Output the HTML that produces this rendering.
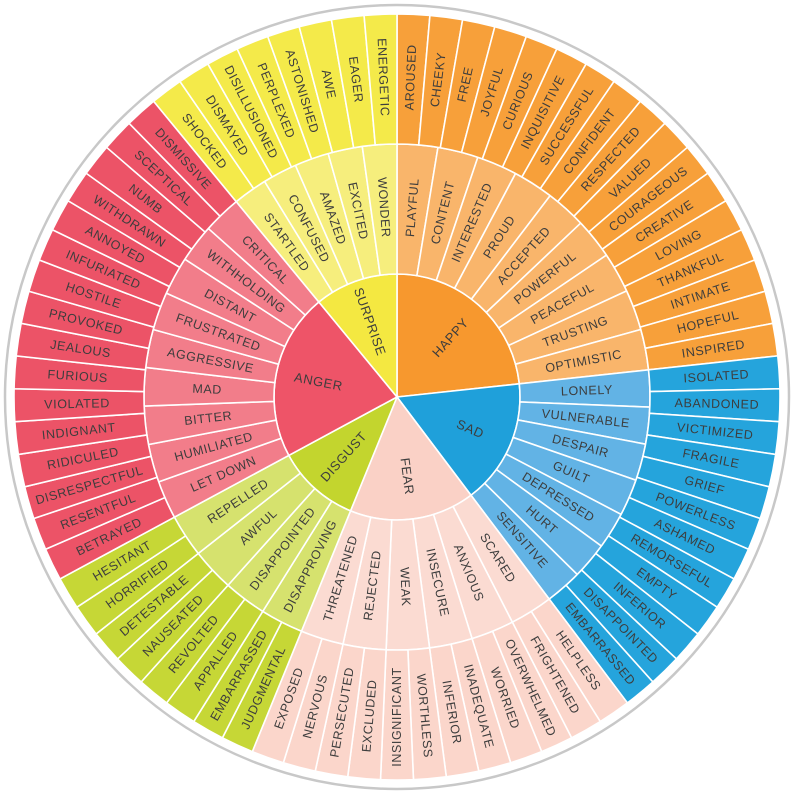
<!DOCTYPE html>
<html><head><meta charset="utf-8"><style>
html,body{margin:0;padding:0;background:#fff}
svg{display:block}
text{font-family:"Liberation Sans","DejaVu Sans",sans-serif;fill:#3d3d3d;letter-spacing:0.6px}
</style></head><body>
<svg id="wheel" width="794" height="794" viewBox="0 0 794 794" xmlns="http://www.w3.org/2000/svg">
<circle cx="397" cy="397" r="392" fill="#fff" stroke="#c8c8c8" stroke-width="2.5"/>
</svg>
<script>
const coreNames=["HAPPY","SAD","FEAR","DISGUST","ANGER","SURPRISE"];
const coreColors=["#F7982E","#1FA0DA","#FAD1C6","#C3D52E","#EE5468","#F4E841"];
const midColors=["#F9B56B","#62B3E5","#FBDBD2","#D6E26E","#F27D8A","#F6EE7D"];
const outColors=["#F7A03A","#25A4DC","#FBD6CB","#C6D736","#EC5367","#F4EA4A"];
const middle=[
["PLAYFUL","CONTENT","INTERESTED","PROUD","ACCEPTED","POWERFUL","PEACEFUL","TRUSTING","OPTIMISTIC"],
["LONELY","VULNERABLE","DESPAIR","GUILT","DEPRESSED","HURT","SENSITIVE"],
["SCARED","ANXIOUS","INSECURE","WEAK","REJECTED","THREATENED"],
["DISAPPROVING","DISAPPOINTED","AWFUL","REPELLED"],
["LET DOWN","HUMILIATED","BITTER","MAD","AGGRESSIVE","FRUSTRATED","DISTANT","WITHHOLDING","CRITICAL"],
["STARTLED","CONFUSED","AMAZED","EXCITED","WONDER"]];
const outer=[
["AROUSED","CHEEKY","FREE","JOYFUL","CURIOUS","INQUISITIVE","SUCCESSFUL","CONFIDENT","RESPECTED","VALUED","COURAGEOUS","CREATIVE","LOVING","THANKFUL","INTIMATE","HOPEFUL","INSPIRED"],
["ISOLATED","ABANDONED","VICTIMIZED","FRAGILE","GRIEF","POWERLESS","ASHAMED","REMORSEFUL","EMPTY","INFERIOR","DISAPPOINTED","EMBARRASSED"],
["HELPLESS","FRIGHTENED","OVERWHELMED","WORRIED","INADEQUATE","INFERIOR","WORTHLESS","INSIGNIFICANT","EXCLUDED","PERSECUTED","NERVOUS","EXPOSED"],
["JUDGMENTAL","EMBARRASSED","APPALLED","REVOLTED","NAUSEATED","DETESTABLE","HORRIFIED","HESITANT"],
["BETRAYED","RESENTFUL","DISRESPECTFUL","RIDICULED","INDIGNANT","VIOLATED","FURIOUS","JEALOUS","PROVOKED","HOSTILE","INFURIATED","ANNOYED","WITHDRAWN","NUMB","SCEPTICAL","DISMISSIVE"],
["SHOCKED","DISMAYED","DISILLUSIONED","PERPLEXED","ASTONISHED","AWE","EAGER","ENERGETIC"]];

const svg=document.getElementById('wheel');
const NS='http://www.w3.org/2000/svg';
const CX=397,CY=397,R0=123,R1=253,R2=383;
const total=outer.reduce((s,a)=>s+a.length,0);
const step=360/total;
function pt(r,a){const t=a*Math.PI/180;return [CX+r*Math.sin(t),CY-r*Math.cos(t)];}
function sector(r1,r2,a1,a2){
  const large=(a2-a1)>180?1:0;
  const p1=pt(r2,a1),p2=pt(r2,a2);
  if(r1<=0){return `M${CX},${CY}L${p1[0]},${p1[1]}A${r2},${r2} 0 ${large} 1 ${p2[0]},${p2[1]}Z`;}
  const p3=pt(r1,a2),p4=pt(r1,a1);
  return `M${p1[0]},${p1[1]}A${r2},${r2} 0 ${large} 1 ${p2[0]},${p2[1]}L${p3[0]},${p3[1]}A${r1},${r1} 0 ${large} 0 ${p4[0]},${p4[1]}Z`;
}
function addPath(d,fill,name){
  const p=document.createElementNS(NS,'path');
  p.setAttribute('d',d);p.setAttribute('fill',fill);
  p.setAttribute('stroke','#fff');p.setAttribute('stroke-width','1.6');
  
  
  svg.appendChild(p);
}
function addLabel(txt,r,a,size,name){
  const [x,y]=pt(r,a);
  const na=((a%360)+360)%360;
  const rot=na<180?na-90:na+90;
  const t=document.createElementNS(NS,'text');
  t.setAttribute('x',x);t.setAttribute('y',y);
  t.setAttribute('text-anchor','middle');
  t.setAttribute('dominant-baseline','central');
  t.setAttribute('font-size',size);
  t.setAttribute('transform',`rotate(${rot} ${x} ${y})`);
  t.textContent=txt;
  
  
  svg.appendChild(t);
}
let start=0;
coreNames.forEach((nm,i)=>{
  const span=outer[i].length*step;
  const a1=start,a2=start+span;
  const key=nm.toLowerCase();
  addPath(sector(0,R0,a1,a2),coreColors[i],key+'-core');
  const ms=span/middle[i].length;
  middle[i].forEach((m,j)=>{
    addPath(sector(R0,R1,a1+j*ms,a1+(j+1)*ms),midColors[i],key+'-middle-segment');
  });
  outer[i].forEach((o,j)=>{
    addPath(sector(R1,R2,a1+j*step,a1+(j+1)*step),outColors[i],key+'-outer-segment');
  });
  addLabel(nm,80,(a1+a2)/2,13,key+'-core-label');
  middle[i].forEach((m,j)=>addLabel(m,(R0+R1)/2+2,a1+(j+0.5)*ms,12.5,key+'-middle-label'));
  outer[i].forEach((o,j)=>addLabel(o,(R1+R2)/2+2,a1+(j+0.5)*step,12.5,key+'-outer-label'));
  start=a2;
});
</script>
</body></html>
